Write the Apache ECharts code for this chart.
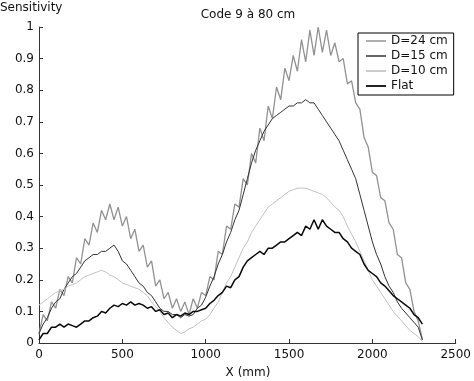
<!DOCTYPE html>
<html><head><meta charset="utf-8">
<script src="https://cdn.jsdelivr.net/npm/echarts@6/dist/echarts.min.js"></script>
<style>html,body{margin:0;padding:0;background:#fff}#c{width:474px;height:381px}</style>
</head><body><div id="c"></div>
<script>
// sampling step along X (mm)
const STEP_MM = 25;
const xTicks = [0, 500, 1000, 1500, 2000, 2500];
const yTicks = [0, 0.1, 0.2, 0.3, 0.4, 0.5, 0.6, 0.7, 0.8, 0.9, 1];
const seriesNames = ['D=24 cm', 'D=15 cm', 'D=10 cm', 'Flat'];

const d24 = [0.03,0.09,0.07,0.13,0.11,0.17,0.15,0.21,0.19,0.27,
  0.25,0.33,0.31,0.38,0.35,0.42,0.39,0.44,0.39,0.43,
  0.37,0.40,0.33,0.36,0.29,0.31,0.24,0.26,0.18,0.20,
  0.14,0.16,0.11,0.14,0.10,0.13,0.09,0.14,0.11,0.16,
  0.15,0.21,0.20,0.29,0.28,0.37,0.36,0.44,0.43,0.52,
  0.50,0.60,0.57,0.68,0.64,0.75,0.71,0.81,0.77,0.87,
  0.83,0.91,0.86,0.96,0.89,0.99,0.91,1.0,0.92,0.99,
  0.91,0.95,0.89,0.90,0.82,0.83,0.76,0.74,0.65,0.62,
  0.54,0.53,0.46,0.45,0.38,0.36,0.28,0.27,0.19,0.17,
  0.10,0.07,0.01];

const d15 = [0.03,0.06,0.08,0.11,0.13,0.14,0.17,0.19,0.21,0.22,
  0.24,0.26,0.27,0.28,0.28,0.29,0.29,0.30,0.31,0.29,
  0.26,0.25,0.23,0.21,0.19,0.18,0.16,0.15,0.13,0.11,
  0.10,0.10,0.09,0.09,0.08,0.09,0.085,0.09,0.11,0.12,
  0.145,0.18,0.21,0.25,0.28,0.32,0.35,0.39,0.42,0.47,
  0.52,0.57,0.61,0.64,0.67,0.69,0.71,0.72,0.73,0.74,
  0.75,0.75,0.76,0.76,0.77,0.76,0.76,0.74,0.72,0.70,
  0.68,0.66,0.64,0.61,0.58,0.55,0.52,0.47,0.42,0.37,
  0.32,0.28,0.25,0.21,0.18,0.16,0.13,0.11,0.095,0.08,
  0.065,0.05,0.01];

const d10 = [0.12,0.13,0.14,0.15,0.16,0.165,0.17,0.18,0.185,0.19,
  0.20,0.21,0.215,0.22,0.225,0.23,0.225,0.215,0.21,0.20,
  0.19,0.185,0.18,0.175,0.17,0.16,0.15,0.13,0.115,0.10,
  0.08,0.065,0.05,0.04,0.03,0.035,0.045,0.05,0.06,0.07,
  0.075,0.09,0.11,0.13,0.16,0.19,0.21,0.24,0.27,0.30,
  0.32,0.35,0.37,0.39,0.41,0.43,0.44,0.45,0.46,0.47,
  0.48,0.485,0.49,0.49,0.49,0.485,0.48,0.475,0.47,0.46,
  0.445,0.43,0.42,0.40,0.37,0.345,0.32,0.29,0.26,0.23,
  0.20,0.18,0.16,0.14,0.12,0.10,0.085,0.07,0.055,0.04,
  0.03,0.02,0.005];

const flat = [0.01,0.03,0.03,0.05,0.05,0.06,0.05,0.06,0.055,0.05,
  0.06,0.07,0.07,0.08,0.085,0.10,0.095,0.11,0.12,0.115,
  0.125,0.12,0.13,0.12,0.125,0.12,0.11,0.115,0.10,0.105,
  0.09,0.095,0.08,0.09,0.085,0.095,0.09,0.10,0.10,0.105,
  0.11,0.125,0.135,0.15,0.16,0.18,0.175,0.20,0.21,0.24,
  0.26,0.27,0.28,0.29,0.28,0.30,0.30,0.31,0.32,0.32,
  0.33,0.34,0.35,0.34,0.37,0.36,0.39,0.36,0.39,0.37,
  0.36,0.35,0.35,0.33,0.32,0.30,0.29,0.28,0.25,0.23,
  0.22,0.21,0.19,0.18,0.165,0.15,0.14,0.13,0.12,0.11,
  0.09,0.08,0.06];

const colors = ['#929292', '#333333', '#c2c2c2', '#0a0a0a'];
const legendColors = ['#b0b0b0', '#666666', '#cccccc', '#222222'];
const widths = [1.3, 1, 1, 1.5];
const allData = [d24, d15, d10, flat];
const pairs = arr => arr.map((v, i) => [i * STEP_MM, v]);

const FONT = '"DejaVu Sans", Verdana, sans-serif';
const FS = 12;
const TXT = '#111';
const chart = echarts.init(document.getElementById('c'));
chart.setOption({
  animation: false,
  backgroundColor: '#fff',
  textStyle: { fontFamily: FONT },
  title: [
    { text: 'Code 9 à 80 cm', left: 248, top: 9, textAlign: 'center', padding: 0,
      textStyle: { fontSize: FS, fontWeight: 'normal', color: TXT, fontFamily: FONT } },
    { text: 'Sensitivity', left: 0, top: 2, padding: 0,
      textStyle: { fontSize: FS, fontWeight: 'normal', color: TXT, fontFamily: FONT } },
    { text: 'X (mm)', left: 248, top: 367, textAlign: 'center', padding: 0,
      textStyle: { fontSize: FS, fontWeight: 'normal', color: TXT, fontFamily: FONT } }
  ],
  legend: {
    orient: 'vertical', left: 358, top: 33,
    data: seriesNames.map((n, k) => ({ name: n, icon: 'rect', itemStyle: { color: legendColors[k] } })),
    itemWidth: 20, itemHeight: 2, itemGap: 1,
    padding: [1, 6, 2, 8],
    borderColor: '#000', borderWidth: 1, borderRadius: 0,
    textStyle: { fontSize: FS, lineHeight: 14, color: TXT, fontFamily: FONT }
  },
  grid: { left: 39, right: 14, top: 27, bottom: 38, containLabel: false },
  xAxis: {
    type: 'value', min: xTicks[0], max: xTicks[xTicks.length - 1], interval: 500,
    axisLine: { lineStyle: { color: '#333', width: 1 } },
    axisTick: { inside: true, length: 4, lineStyle: { color: '#333' } },
    axisLabel: { fontSize: FS, color: TXT, margin: 6, fontFamily: FONT, formatter: v => String(v) },
    splitLine: { show: false }
  },
  yAxis: {
    type: 'value', min: yTicks[0], max: yTicks[yTicks.length - 1], interval: 0.1,
    axisLine: { show: true, lineStyle: { color: '#333', width: 1 } },
    axisTick: { show: true, inside: true, length: 4, lineStyle: { color: '#333' } },
    axisLabel: { fontSize: FS, color: TXT, margin: 5, fontFamily: FONT },
    splitLine: { show: false }
  },
  series: seriesNames.map((n, k) => ({
    name: n, type: 'line', symbol: 'none', data: pairs(allData[k]),
    itemStyle: { color: colors[k] },
    lineStyle: { color: colors[k], width: widths[k] },
    z: k === 3 ? 5 : 2
  }))
});
</script></body></html>
